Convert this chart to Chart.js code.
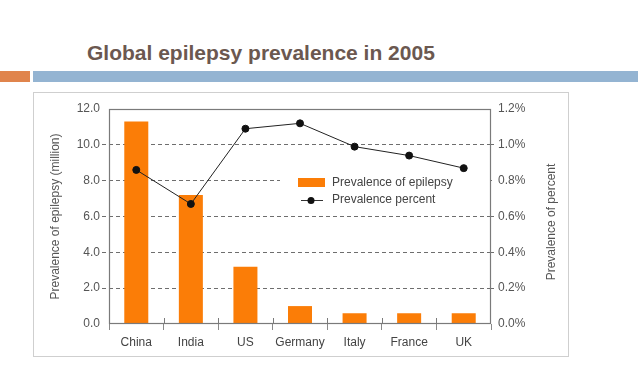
<!DOCTYPE html>
<html>
<head>
<meta charset="utf-8">
<script src="https://cdn.jsdelivr.net/npm/chart.js@4.4.0/dist/chart.umd.min.js"></script>
<style>
  body { margin: 0; width: 638px; height: 380px; background: #fff; position: relative; overflow: hidden; }
  #title { position: absolute; left: 87px; top: 41px; font: bold 21px "Liberation Sans", Arial, sans-serif; color: #6b5850; white-space: nowrap; }
  #barOrange { position: absolute; left: 0; top: 71px; width: 30px; height: 11px; background: #e0844c; }
  #barBlue { position: absolute; left: 33px; top: 71px; width: 605px; height: 11px; background: #94b4d2; }
  #frame { position: absolute; left: 33px; top: 92px; width: 534px; height: 263px; border: 1px solid #cfcfcf; }
  #frame canvas { position: absolute; left: 0; top: 0; }
</style>
</head>
<body>
<div id="title">Global epilepsy prevalence in 2005</div>
<div id="barOrange"></div>
<div id="barBlue"></div>
<div id="frame"><canvas id="chart" width="534" height="263"></canvas></div>
<script>
// Data
const countries = ['China', 'India', 'US', 'Germany', 'Italy', 'France', 'UK'];
const prevalenceMillion = [11.3, 7.2, 3.2, 1.0, 0.6, 0.6, 0.6];
const prevalencePercent = [0.86, 0.67, 1.09, 1.12, 0.99, 0.94, 0.87];

const FONT = "'Liberation Sans', Arial, sans-serif";
const ORANGE = '#fb7d07';

// frame, legend box and right-hand title
const decorations = {
  id: 'decorations',
  beforeDatasetsDraw(chart) {
    const { ctx, chartArea: a } = chart;
    const yL = chart.scales.y;
    ctx.save();
    // white box behind the legend hides part of the 8.0 line
    const gy = yL.getPixelForValue(8);
    ctx.fillStyle = '#fff';
    ctx.fillRect(a.left + 171, gy - 3, a.right - a.left - 172, 6);
    ctx.fillRect(a.right + 1, gy - 3, 5, 6);
    ctx.restore();
  },
  afterDatasetsDraw(chart) {
    const { ctx, chartArea: a } = chart;
    const x = chart.scales.x;
    ctx.save();
    // plot frame
    ctx.strokeStyle = '#7a7a7a';
    ctx.lineWidth = 1.2;
    const l = Math.round(a.left) + 0.5, t = Math.round(a.top) + 0.5;
    const r = Math.round(a.right) - 0.5, b = Math.round(a.bottom) - 0.5;
    ctx.strokeRect(l, t, r - l, b - t);
    // category ticks crossing the axis line
    const half = (x.getPixelForValue(1) - x.getPixelForValue(0)) / 2;
    ctx.lineWidth = 1;
    ctx.beginPath();
    for (let i = 1; i < countries.length; i++) {
      const px = Math.round(x.getPixelForValue(i) - half) + 0.5;
      ctx.moveTo(px, a.bottom - 6);
      ctx.lineTo(px, a.bottom);
    }
    ctx.stroke();
    ctx.restore();
  },
  afterDraw(chart) {
    const { ctx, chartArea: a } = chart;
    ctx.save();
    // legend
    const lx = a.left + 189, ly = a.top + 69;
    ctx.fillStyle = ORANGE;
    ctx.fillRect(lx, ly, 27, 9);
    ctx.strokeStyle = '#333';
    ctx.lineWidth = 1;
    ctx.beginPath();
    ctx.moveTo(lx + 3, ly + 22.5);
    ctx.lineTo(lx + 25, ly + 22.5);
    ctx.stroke();
    ctx.fillStyle = '#111';
    ctx.beginPath();
    ctx.arc(lx + 13, ly + 22.5, 3.5, 0, Math.PI * 2);
    ctx.fill();
    ctx.fillStyle = '#444';
    ctx.font = '12px ' + FONT;
    ctx.textBaseline = 'middle';
    ctx.fillText('Prevalence of epilepsy', lx + 34, ly + 5);
    ctx.fillText('Prevalence percent', lx + 34, ly + 22);
    // right axis title, reading upwards
    ctx.translate(518, 129);
    ctx.rotate(-Math.PI / 2);
    ctx.textAlign = 'center';
    ctx.fillStyle = '#555';
    ctx.fillText('Prevalence of percent', 0, 0);
    ctx.restore();
  }
};

const hideEdges = (c) => (c.tick && (c.tick.value === 0 || c.tick.value === 12)) ? 'rgba(0,0,0,0)' : '#6e6e6e';
const hideEdgesPct = (c) => (c.tick && (c.index === 0 || c.index === 6)) ? 'rgba(0,0,0,0)' : '#6e6e6e';

new Chart(document.getElementById('chart'), {
  type: 'bar',
  data: {
    labels: countries,
    datasets: [{
      type: 'line',
      label: 'Prevalence percent',
      data: prevalencePercent,
      yAxisID: 'y1',
      borderColor: '#222',
      borderWidth: 1,
      pointBackgroundColor: '#111',
      pointBorderColor: '#111',
      pointRadius: 3.5,
      tension: 0,
      order: 0
    }, {
      label: 'Prevalence of epilepsy',
      data: prevalenceMillion,
      yAxisID: 'y',
      backgroundColor: ORANGE,
      barPercentage: 0.88,
      categoryPercentage: 0.5,
      order: 1
    }]
  },
  options: {
    responsive: false,
    animation: false,
    layout: { padding: { top: 16, left: 0, right: 0, bottom: 0 } },
    plugins: { legend: { display: false }, tooltip: { enabled: false } },
    scales: {
      x: {
        afterFit: (s) => { s.height = 32; },
        grid: { drawOnChartArea: false, tickLength: 6, color: '#8a8a8a' },
        border: { display: false },
        ticks: { color: '#444', padding: 5, maxRotation: 0, autoSkip: false,
          font: { family: FONT, size: 12 } }
      },
      y: {
        position: 'left',
        min: 0, max: 12,
        afterFit: (s) => { s.width = 75; },
        ticks: { stepSize: 2, color: '#555', padding: 2, font: { family: FONT, size: 12 },
          callback: (v) => v.toFixed(1) },
        grid: { color: hideEdges, tickLength: 7, tickBorderDash: [4, 3] },
        border: { display: false, dash: [4, 3] },
        title: { display: true, text: 'Prevalence of epilepsy (million)', color: '#555',
          font: { family: FONT, size: 12 }, padding: { top: 14, bottom: 0 } }
      },
      y1: {
        position: 'right',
        min: 0, max: 1.2,
        afterFit: (s) => { s.width = 77; },
        ticks: { stepSize: 0.2, color: '#555', padding: 2, font: { family: FONT, size: 12 },
          callback: (v) => v.toFixed(1) + '%' },
        grid: { drawOnChartArea: false, color: hideEdgesPct, tickLength: 5, tickBorderDash: [3, 2] },
        border: { display: false }
      }
    }
  },
  plugins: [decorations]
});
</script>
</body>
</html>
